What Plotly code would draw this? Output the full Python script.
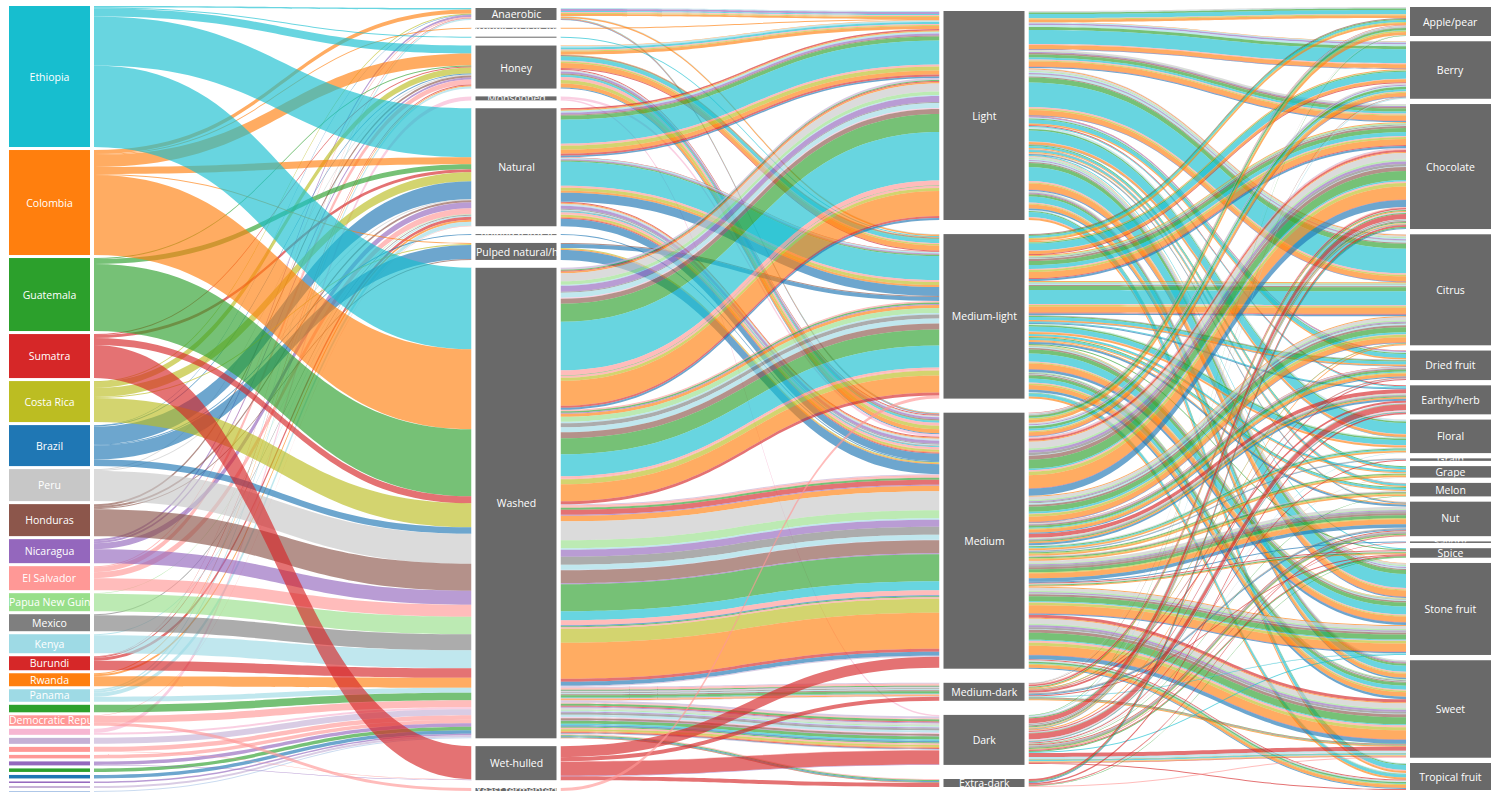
import plotly.graph_objects as go

countries = ["Ethiopia", "Colombia", "Guatemala", "Sumatra", "Costa Rica", "Brazil", "Peru", "Honduras",
             "Nicaragua", "El Salvador", "Papua New Guinea", "Mexico", "Kenya", "Burundi", "Rwanda", "Panama",
             "Tanzania", "Democratic Republic of the Congo", "India", "Yemen", "Uganda", "Timor-Leste",
             "Sulawesi", "Dominican Republic", "Ecuador", "Haiti", "Bolivia", "Jamaica"]
country_colors = ["#17becf", "#ff7f0e", "#2ca02c", "#d62728", "#bcbd22", "#1f77b4", "#c7c7c7", "#8c564b",
                  "#9467bd", "#ff9896", "#98df8a", "#7f7f7f", "#9edae5", "#d62728", "#ff7f0e", "#9edae5",
                  "#2ca02c", "#ff9896", "#f7b6d2", "#c5b0d5", "#ff9896", "#ff9896",
                  "#9467bd", "#2ca02c", "#1f77b4", "#9467bd", "#c5b0d5", "#aec7e8"]
processes = ["Anaerobic", "Carbonic maceration", "Dry", "Honey", "Monsooned", "Natural", "Pulped natural",
             "Pulped natural/honey", "Washed", "Wet-hulled", "Yeast fermented"]
roasts = ["Light", "Medium-light", "Medium", "Medium-dark", "Dark", "Extra-dark"]
flavors = ["Apple/pear", "Berry", "Chocolate", "Citrus", "Dried fruit", "Earthy/herb", "Floral", "Grain", "Grape",
           "Melon", "Nut", "Savory", "Spice", "Stone fruit", "Sweet", "Tropical fruit"]
no_label = ["Tanzania", "India", "Yemen", "Uganda", "Timor-Leste", "Sulawesi", "Dominican Republic", "Ecuador",
            "Haiti", "Bolivia", "Jamaica", "Dry"]
long_label = ["Papua New Guinea", "Democratic Republic of the Congo", "Pulped natural/honey"]

# country -> process
to_anaerobic = [("Ethiopia", 1.5), ("Colombia", 4), ("Costa Rica", 1), ("Brazil", .5), ("Nicaragua", 2),
                ("El Salvador", 1), ("Burundi", .5), ("Panama", 1.5)]
to_carbonic = [("Colombia", 1)]
to_dry = [("Ethiopia", 1)]
to_honey = [("Ethiopia", 8), ("Colombia", 12), ("Guatemala", 1), ("Sumatra", 1), ("Costa Rica", 6), ("Brazil", 1),
            ("Peru", 1), ("Honduras", 2), ("Nicaragua", 2), ("El Salvador", 5), ("Burundi", 1), ("Rwanda", 1),
            ("Panama", 2)]
to_monsooned = [("India", 4)]
to_natural = [("Ethiopia", 49), ("Colombia", 7), ("Guatemala", 5), ("Sumatra", 3), ("Costa Rica", 9), ("Brazil", 18),
              ("Peru", 1), ("Honduras", 2), ("Nicaragua", 6), ("El Salvador", 6), ("Papua New Guinea", .5),
              ("Mexico", 1), ("Kenya", 1), ("Burundi", 3), ("Rwanda", 2), ("Panama", 4),
              ("Democratic Republic of the Congo", .5)]
to_pulped = [("Brazil", 1)]
to_pulped_honey = [("Colombia", 1), ("Costa Rica", 1), ("Brazil", 14), ("Honduras", 1)]
to_washed = [("Ethiopia", 81.5), ("Colombia", 80), ("Guatemala", 67), ("Sumatra", 7), ("Costa Rica", 24),
             ("Brazil", 6.5), ("Peru", 30), ("Honduras", 27), ("Nicaragua", 14), ("El Salvador", 12),
             ("Papua New Guinea", 17.5), ("Mexico", 16), ("Kenya", 18), ("Burundi", 9.5), ("Rwanda", 10),
             ("Panama", 5), ("Tanzania", 7.5), ("Democratic Republic of the Congo", 7), ("India", 2), ("Yemen", 6),
             ("Uganda", 4.5), ("Timor-Leste", 3.5), ("Sulawesi", 3.5), ("Dominican Republic", 3.5), ("Ecuador", 3.5),
             ("Haiti", 1.5), ("Bolivia", 2), ("Jamaica", 1)]
to_wet_hulled = [("Sumatra", 33), ("Uganda", .5), ("Sulawesi", .5)]
to_yeast = [("Democratic Republic of the Congo", 3)]

# process -> roast, one band per country
anaerobic_out = [("Light", "Nicaragua", 2), ("Light", "Panama", 1), ("Light", "Ethiopia", 1), ("Light", "El Salvador", 1),
                 ("Light", "Costa Rica", 1), ("Light", "Colombia", 2), ("Medium-light", "Colombia", 1.5),
                 ("Medium-light", "Panama", .5), ("Medium", "Brazil", .5), ("Medium", "Burundi", .5),
                 ("Medium", "Colombia", .5), ("Medium", "Ethiopia", .5)]
carbonic_out = [("Light", "Colombia", 1)]
dry_out = [("Medium-light", "Ethiopia", 1)]
honey_out = [("Light", "Ethiopia", 2), ("Light", "Colombia", 3), ("Light", "Costa Rica", 1), ("Light", "El Salvador", 1),
             ("Light", "Rwanda", .5), ("Light", "Panama", 1.5), ("Medium-light", "Ethiopia", 4),
             ("Medium-light", "Colombia", 5), ("Medium-light", "Guatemala", .5), ("Medium-light", "Costa Rica", 1.5),
             ("Medium-light", "Honduras", 1), ("Medium-light", "El Salvador", 1), ("Medium-light", "Burundi", 1),
             ("Medium-light", "Rwanda", .5), ("Medium", "Ethiopia", 2), ("Medium", "Colombia", 4),
             ("Medium", "Guatemala", .5), ("Medium", "Sumatra", 1), ("Medium", "Costa Rica", 3.5), ("Medium", "Brazil", 1),
             ("Medium", "Peru", 1), ("Medium", "Honduras", 1), ("Medium", "Nicaragua", 2), ("Medium", "El Salvador", 3),
             ("Medium", "Panama", .5)]
monsooned_out = [("Medium", "India", 2.5), ("Dark", "India", 1.5)]
natural_out = [("Light", "Papua New Guinea", .5), ("Light", "Panama", 1.5), ("Light", "Nicaragua", 2),
               ("Light", "Guatemala", 4), ("Light", "Ethiopia", 24), ("Light", "El Salvador", 2), ("Light", "Costa Rica", 4),
               ("Light", "Colombia", 4), ("Light", "Burundi", 2), ("Light", "Brazil", 1.5), ("Light", "Rwanda", 1),
               ("Light", "Honduras", 1), ("Light", "Sumatra", 1.5),
               ("Medium-light", "Ethiopia", 24), ("Medium-light", "El Salvador", 2), ("Medium-light", "Costa Rica", 3),
               ("Medium-light", "Colombia", 2), ("Medium-light", "Sumatra", .5), ("Medium-light", "Brazil", 9),
               ("Medium-light", "Honduras", .5), ("Medium-light", "Guatemala", 1), ("Medium-light", "Nicaragua", 1),
               ("Medium-light", "Panama", 1.5),
               ("Medium", "Rwanda", 1), ("Medium", "Peru", 1), ("Medium", "Mexico", 1), ("Medium", "Kenya", 1),
               ("Medium", "Nicaragua", 3), ("Medium", "Honduras", .5), ("Medium", "Ethiopia", 1),
               ("Medium", "El Salvador", 2), ("Medium", "Democratic Republic of the Congo", .5),
               ("Medium", "Costa Rica", 2), ("Medium", "Colombia", 1), ("Medium", "Burundi", 1),
               ("Medium", "Sumatra", 1), ("Medium", "Brazil", 7.5), ("Medium", "Panama", 1)]
pulped_out = [("Medium", "Brazil", 1)]
pulped_honey_out = [("Medium-light", "Brazil", 4), ("Medium-light", "Honduras", 1), ("Medium", "Brazil", 10),
                    ("Medium", "Costa Rica", 1), ("Medium", "Colombia", 1)]
washed_out = [("Light", "Ethiopia", 48.5), ("Light", "Colombia", 25), ("Light", "Guatemala", 18), ("Light", "Sumatra", 1),
              ("Light", "Costa Rica", 3), ("Light", "Brazil", 2), ("Light", "Peru", 8), ("Light", "Honduras", 5),
              ("Light", "Nicaragua", 6), ("Light", "El Salvador", 5), ("Light", "Papua New Guinea", 3.5),
              ("Light", "Mexico", 1), ("Light", "Kenya", 5), ("Light", "Burundi", 2), ("Light", "Rwanda", 1.5),
              ("Light", "Panama", 1), ("Light", "Tanzania", 1), ("Light", "Democratic Republic of the Congo", 2),
              ("Light", "India", 1), ("Light", "Yemen", 2), ("Light", "Dominican Republic", .5),
              ("Medium-light", "Ethiopia", 22), ("Medium-light", "Colombia", 17), ("Medium-light", "Guatemala", 16),
              ("Medium-light", "Costa Rica", 5), ("Medium-light", "Honduras", 6), ("Medium-light", "El Salvador", 2),
              ("Medium-light", "Papua New Guinea", 5), ("Medium-light", "Mexico", 4), ("Medium-light", "Kenya", 5),
              ("Medium-light", "Burundi", 3), ("Medium-light", "Rwanda", 3), ("Medium-light", "Panama", 1.5),
              ("Medium-light", "Tanzania", 1.5), ("Medium-light", "Democratic Republic of the Congo", 1),
              ("Medium-light", "Uganda", 1), ("Medium-light", "Timor-Leste", .5), ("Medium-light", "Sulawesi", 1),
              ("Medium", "Ethiopia", 9), ("Medium", "Colombia", 36), ("Medium", "Guatemala", 27), ("Medium", "Sumatra", 5),
              ("Medium", "Costa Rica", 14), ("Medium", "Brazil", 4), ("Medium", "Peru", 19), ("Medium", "Honduras", 13),
              ("Medium", "Nicaragua", 7), ("Medium", "El Salvador", 5), ("Medium", "Papua New Guinea", 8),
              ("Medium", "Mexico", 8), ("Medium", "Kenya", 5), ("Medium", "Burundi", 3), ("Medium", "Rwanda", 5.5),
              ("Medium", "Panama", 1.5), ("Medium", "Tanzania", 2), ("Medium", "Democratic Republic of the Congo", 1.5),
              ("Medium", "Yemen", 1), ("Medium", "Uganda", 1.5), ("Medium", "Timor-Leste", 1), ("Medium", "Sulawesi", 1),
              ("Medium", "Dominican Republic", 1), ("Medium", "Ecuador", 1), ("Medium", "Haiti", 1), ("Medium", "Bolivia", 1),
              ("Medium", "Jamaica", .5),
              ("Medium-dark", "Ethiopia", .5), ("Medium-dark", "Colombia", 1), ("Medium-dark", "Guatemala", 2),
              ("Medium-dark", "Peru", 1), ("Medium-dark", "Honduras", 1), ("Medium-dark", "Mexico", 1),
              ("Medium-dark", "Kenya", 1), ("Medium-dark", "Tanzania", 1),
              ("Medium-dark", "Democratic Republic of the Congo", 1), ("Medium-dark", "Yemen", 1),
              ("Medium-dark", "Uganda", 1), ("Medium-dark", "Timor-Leste", 1), ("Medium-dark", "Sulawesi", .5),
              ("Medium-dark", "Dominican Republic", .5), ("Medium-dark", "Bolivia", .5),
              ("Dark", "Ethiopia", 1.5), ("Dark", "Colombia", 1), ("Dark", "Guatemala", 3), ("Dark", "Sumatra", 1),
              ("Dark", "Costa Rica", 2), ("Dark", "Brazil", .5), ("Dark", "Peru", 2), ("Dark", "Honduras", 2),
              ("Dark", "Nicaragua", 1), ("Dark", "Papua New Guinea", 1), ("Dark", "Mexico", 2), ("Dark", "Kenya", 2),
              ("Dark", "Burundi", 1), ("Dark", "Panama", 1), ("Dark", "Tanzania", 2),
              ("Dark", "Democratic Republic of the Congo", 1.5), ("Dark", "India", 1), ("Dark", "Yemen", 2),
              ("Dark", "Uganda", .5), ("Dark", "Timor-Leste", .5), ("Dark", "Sulawesi", 1),
              ("Dark", "Dominican Republic", 1), ("Dark", "Ecuador", 1.5), ("Dark", "Haiti", .5), ("Dark", "Bolivia", .5),
              ("Dark", "Jamaica", .5),
              ("Extra-dark", "Guatemala", 1), ("Extra-dark", "Burundi", .5), ("Extra-dark", "Uganda", .5),
              ("Extra-dark", "Timor-Leste", .5), ("Extra-dark", "Dominican Republic", .5), ("Extra-dark", "Ecuador", 1)]
wet_hulled_out = [("Medium", "Sumatra", 11), ("Medium-dark", "Sumatra", 4), ("Dark", "Sumatra", 14), ("Dark", "Uganda", .5),
                  ("Dark", "Sulawesi", .5), ("Extra-dark", "Sumatra", 4)]
yeast_out = [("Medium-light", "Democratic Republic of the Congo", 3)]

# roast -> flavor, one band per country
light_out = [("Apple/pear", "Peru", 1), ("Apple/pear", "Guatemala", 1.5), ("Apple/pear", "Ethiopia", 4),
             ("Apple/pear", "El Salvador", .5), ("Apple/pear", "Costa Rica", 1), ("Apple/pear", "Colombia", 2.5),
             ("Apple/pear", "Kenya", .5),
             ("Berry", "Nicaragua", 1.5), ("Berry", "Kenya", 2), ("Berry", "Guatemala", 3), ("Berry", "Ethiopia", 14),
             ("Berry", "El Salvador", 1), ("Berry", "Panama", 1), ("Berry", "Colombia", 4), ("Berry", "Burundi", .5),
             ("Berry", "Brazil", .5), ("Berry", "Rwanda", .5),
             ("Chocolate", "Peru", 1.5), ("Chocolate", "Nicaragua", 1), ("Chocolate", "Honduras", 1.5),
             ("Chocolate", "Guatemala", 3), ("Chocolate", "Ethiopia", 2), ("Chocolate", "El Salvador", 1),
             ("Chocolate", "Costa Rica", 1), ("Chocolate", "Colombia", 5), ("Chocolate", "Burundi", .5),
             ("Chocolate", "Brazil", 1), ("Chocolate", "Papua New Guinea", .5),
             ("Citrus", "Rwanda", 1), ("Citrus", "Peru", 1.5), ("Citrus", "Papua New Guinea", 1), ("Citrus", "Panama", 1),
             ("Citrus", "Nicaragua", 1), ("Citrus", "Mexico", .5), ("Citrus", "Kenya", 2), ("Citrus", "Honduras", 1),
             ("Citrus", "Guatemala", 5), ("Citrus", "Ethiopia", 24.5), ("Citrus", "El Salvador", 1.5),
             ("Citrus", "Costa Rica", 1.5), ("Citrus", "Colombia", 5), ("Citrus", "Burundi", .5), ("Citrus", "Brazil", .5),
             ("Citrus", "Yemen", .5),
             ("Dried fruit", "Nicaragua", 1), ("Dried fruit", "Kenya", 1), ("Dried fruit", "Guatemala", 1),
             ("Dried fruit", "Ethiopia", 4), ("Dried fruit", "Colombia", 1.5), ("Dried fruit", "Sumatra", .5),
             ("Earthy/herb", "Sumatra", 1), ("Earthy/herb", "Ethiopia", 1),
             ("Floral", "Peru", .5), ("Floral", "Panama", 1), ("Floral", "Guatemala", 1.5), ("Floral", "Ethiopia", 11),
             ("Floral", "El Salvador", .5), ("Floral", "Colombia", 2.5), ("Floral", "Kenya", .5), ("Floral", "Brazil", .5),
             ("Grape", "Ethiopia", 2), ("Grape", "Colombia", 1), ("Grape", "Guatemala", 1),
             ("Melon", "Ethiopia", 2), ("Melon", "Colombia", 1), ("Melon", "Honduras", .5), ("Melon", "Peru", .5),
             ("Nut", "Peru", .5), ("Nut", "Colombia", .5), ("Nut", "Brazil", 1),
             ("Spice", "Ethiopia", 1),
             ("Stone fruit", "Rwanda", .5), ("Stone fruit", "Peru", 1.5), ("Stone fruit", "Papua New Guinea", 1),
             ("Stone fruit", "Panama", 1), ("Stone fruit", "Nicaragua", 1), ("Stone fruit", "Kenya", 1),
             ("Stone fruit", "Honduras", 1), ("Stone fruit", "Guatemala", 4), ("Stone fruit", "Ethiopia", 14),
             ("Stone fruit", "El Salvador", 1.5), ("Stone fruit", "Costa Rica", 1), ("Stone fruit", "Colombia", 6),
             ("Stone fruit", "Burundi", .5), ("Stone fruit", "Brazil", 1),
             ("Sweet", "Peru", 1), ("Sweet", "Papua New Guinea", .5), ("Sweet", "Nicaragua", 1), ("Sweet", "Honduras", 1),
             ("Sweet", "Guatemala", 2), ("Sweet", "Ethiopia", 6), ("Sweet", "El Salvador", 1), ("Sweet", "Costa Rica", 1),
             ("Sweet", "Colombia", 4), ("Sweet", "Brazil", 1.5),
             ("Tropical fruit", "Ethiopia", 5), ("Tropical fruit", "Colombia", 2), ("Tropical fruit", "Guatemala", 1),
             ("Tropical fruit", "Panama", 1), ("Tropical fruit", "El Salvador", 1)]
medium_light_out = [("Apple/pear", "Guatemala", 1), ("Apple/pear", "Ethiopia", 2), ("Apple/pear", "Costa Rica", 1),
                    ("Apple/pear", "Colombia", 2), ("Apple/pear", "Honduras", 1),
                    ("Berry", "Guatemala", 1), ("Berry", "Ethiopia", 7), ("Berry", "El Salvador", .5), ("Berry", "Colombia", 3),
                    ("Berry", "Burundi", 1), ("Berry", "Papua New Guinea", .5), ("Berry", "Rwanda", 1),
                    ("Chocolate", "Rwanda", 1), ("Chocolate", "Papua New Guinea", 1.5), ("Chocolate", "Mexico", 1),
                    ("Chocolate", "Kenya", .5), ("Chocolate", "Honduras", 2), ("Chocolate", "Guatemala", 4),
                    ("Chocolate", "Ethiopia", 4), ("Chocolate", "El Salvador", 1), ("Chocolate", "Costa Rica", 2),
                    ("Chocolate", "Colombia", 6), ("Chocolate", "Burundi", 1), ("Chocolate", "Brazil", 2),
                    ("Citrus", "Rwanda", 1), ("Citrus", "Papua New Guinea", 1), ("Citrus", "Mexico", .5), ("Citrus", "Kenya", 1.5),
                    ("Citrus", "Honduras", 1), ("Citrus", "Guatemala", 4), ("Citrus", "Ethiopia", 14), ("Citrus", "El Salvador", 1),
                    ("Citrus", "Costa Rica", 1.5), ("Citrus", "Colombia", 6), ("Citrus", "Burundi", 1), ("Citrus", "Brazil", 1.5),
                    ("Dried fruit", "Kenya", .5), ("Dried fruit", "Guatemala", 1), ("Dried fruit", "Ethiopia", 3),
                    ("Dried fruit", "Colombia", 1.5), ("Dried fruit", "Honduras", .5), ("Dried fruit", "Brazil", .5),
                    ("Earthy/herb", "Ethiopia", 1), ("Earthy/herb", "Brazil", 1),
                    ("Floral", "Papua New Guinea", .5), ("Floral", "Guatemala", 1.5), ("Floral", "Ethiopia", 5),
                    ("Floral", "El Salvador", .5), ("Floral", "Colombia", 2), ("Floral", "Kenya", .5),
                    ("Grape", "Ethiopia", 2), ("Grape", "Colombia", 1),
                    ("Melon", "Ethiopia", 2), ("Melon", "Colombia", 1), ("Melon", "Guatemala", 1),
                    ("Nut", "Brazil", 2), ("Nut", "Colombia", 1),
                    ("Spice", "Guatemala", 1),
                    ("Stone fruit", "Rwanda", .5), ("Stone fruit", "Papua New Guinea", 1), ("Stone fruit", "Mexico", .5),
                    ("Stone fruit", "Kenya", 1), ("Stone fruit", "Honduras", 1.5), ("Stone fruit", "Guatemala", 4),
                    ("Stone fruit", "Ethiopia", 8), ("Stone fruit", "El Salvador", 1), ("Stone fruit", "Costa Rica", 1),
                    ("Stone fruit", "Colombia", 5.5), ("Stone fruit", "Burundi", .5), ("Stone fruit", "Brazil", 2.5),
                    ("Sweet", "Papua New Guinea", 1), ("Sweet", "Mexico", 1), ("Sweet", "Kenya", .5), ("Sweet", "Honduras", 1),
                    ("Sweet", "Guatemala", 3), ("Sweet", "Ethiopia", 4), ("Sweet", "El Salvador", 1), ("Sweet", "Costa Rica", 1.5),
                    ("Sweet", "Colombia", 4.5), ("Sweet", "Brazil", 2.5),
                    ("Tropical fruit", "Ethiopia", 3), ("Tropical fruit", "Colombia", 2), ("Tropical fruit", "Guatemala", .5),
                    ("Tropical fruit", "Panama", 1)]
medium_out = [("Apple/pear", "Peru", 1), ("Apple/pear", "Guatemala", 2), ("Apple/pear", "Costa Rica", 1.5),
              ("Apple/pear", "Colombia", 3), ("Apple/pear", "Mexico", .5), ("Apple/pear", "Kenya", .5),
              ("Apple/pear", "Honduras", .5), ("Apple/pear", "Ethiopia", .5), ("Apple/pear", "Sumatra", .5),
              ("Berry", "Peru", 1.5), ("Berry", "Guatemala", 2.5), ("Berry", "Kenya", 1), ("Berry", "Nicaragua", 1),
              ("Berry", "Ethiopia", 2), ("Berry", "Colombia", 3.5), ("Berry", "Costa Rica", 1), ("Berry", "El Salvador", .5),
              ("Berry", "Brazil", .5), ("Berry", "Burundi", .5),
              ("Chocolate", "Sumatra", 2), ("Chocolate", "Rwanda", 1), ("Chocolate", "Peru", 6.5),
              ("Chocolate", "Papua New Guinea", 2), ("Chocolate", "Nicaragua", 2.5), ("Chocolate", "Mexico", 2.5),
              ("Chocolate", "Kenya", .5), ("Chocolate", "Honduras", 4), ("Chocolate", "Guatemala", 9),
              ("Chocolate", "Ethiopia", 1.5), ("Chocolate", "El Salvador", 1.5), ("Chocolate", "Costa Rica", 3.5),
              ("Chocolate", "Colombia", 13), ("Chocolate", "Burundi", .5), ("Chocolate", "Brazil", 7),
              ("Chocolate", "Yemen", 1), ("Chocolate", "Uganda", 1),
              ("Citrus", "Rwanda", 1), ("Citrus", "Peru", 3), ("Citrus", "Papua New Guinea", 1.5), ("Citrus", "Nicaragua", 1),
              ("Citrus", "Mexico", 1), ("Citrus", "Kenya", 1.5), ("Citrus", "Honduras", 2), ("Citrus", "Guatemala", 5),
              ("Citrus", "Ethiopia", 2), ("Citrus", "El Salvador", .5), ("Citrus", "Costa Rica", 2.5), ("Citrus", "Colombia", 5),
              ("Citrus", "Burundi", .5), ("Citrus", "Brazil", .5),
              ("Dried fruit", "Peru", 1), ("Dried fruit", "Nicaragua", .5), ("Dried fruit", "Honduras", 1),
              ("Dried fruit", "Guatemala", 2), ("Dried fruit", "Ethiopia", 1), ("Dried fruit", "Costa Rica", 1),
              ("Dried fruit", "Colombia", 3), ("Dried fruit", "Brazil", 1), ("Dried fruit", "Sumatra", .5),
              ("Earthy/herb", "Sumatra", 4), ("Earthy/herb", "Peru", 1), ("Earthy/herb", "Papua New Guinea", .5),
              ("Earthy/herb", "Honduras", .5), ("Earthy/herb", "Guatemala", 1), ("Earthy/herb", "Colombia", 1.5),
              ("Earthy/herb", "Brazil", 2), ("Earthy/herb", "Mexico", .5), ("Earthy/herb", "Nicaragua", .5),
              ("Floral", "Peru", .5), ("Floral", "Guatemala", 1), ("Floral", "Ethiopia", 1), ("Floral", "Colombia", 1.5),
              ("Floral", "Costa Rica", .5), ("Floral", "Kenya", .5),
              ("Grain", "Peru", .5), ("Grain", "Brazil", .5), ("Grain", "Mexico", .5),
              ("Grape", "Colombia", 1.5), ("Grape", "Guatemala", 1), ("Grape", "Peru", .5), ("Grape", "Costa Rica", 1),
              ("Melon", "Colombia", 1.5), ("Melon", "Guatemala", 1), ("Melon", "Honduras", .5), ("Melon", "Costa Rica", 1),
              ("Melon", "Peru", 1),
              ("Nut", "Peru", 2.5), ("Nut", "Papua New Guinea", 1), ("Nut", "Nicaragua", 1), ("Nut", "Mexico", 2),
              ("Nut", "Honduras", 2), ("Nut", "Guatemala", 3), ("Nut", "Colombia", 5), ("Nut", "Costa Rica", 1),
              ("Nut", "Brazil", 3.5),
              ("Savory", "Brazil", 1),
              ("Spice", "Sumatra", 1), ("Spice", "Guatemala", 1), ("Spice", "Colombia", 1), ("Spice", "Peru", 1),
              ("Stone fruit", "Rwanda", 1), ("Stone fruit", "Peru", 3), ("Stone fruit", "Papua New Guinea", 1.5),
              ("Stone fruit", "Nicaragua", 1), ("Stone fruit", "Mexico", .5), ("Stone fruit", "Kenya", .5),
              ("Stone fruit", "Honduras", 2), ("Stone fruit", "Guatemala", 5), ("Stone fruit", "Ethiopia", 1),
              ("Stone fruit", "El Salvador", .5), ("Stone fruit", "Costa Rica", 2.5), ("Stone fruit", "Colombia", 8),
              ("Stone fruit", "Burundi", .5), ("Stone fruit", "Brazil", 1),
              ("Sweet", "Sumatra", 3), ("Sweet", "Rwanda", 1), ("Sweet", "Peru", 5), ("Sweet", "Papua New Guinea", 1.5),
              ("Sweet", "Nicaragua", 2), ("Sweet", "Mexico", 2), ("Sweet", "Kenya", .5), ("Sweet", "Honduras", 3),
              ("Sweet", "Guatemala", 7), ("Sweet", "Ethiopia", 1), ("Sweet", "El Salvador", 2), ("Sweet", "Costa Rica", 3),
              ("Sweet", "Colombia", 9), ("Sweet", "Burundi", .5), ("Sweet", "Brazil", 4),
              ("Tropical fruit", "Colombia", 3), ("Tropical fruit", "Guatemala", 1.5), ("Tropical fruit", "Costa Rica", 1),
              ("Tropical fruit", "Peru", 1), ("Tropical fruit", "Sumatra", 1), ("Tropical fruit", "Brazil", 1),
              ("Tropical fruit", "Ethiopia", .5), ("Tropical fruit", "Kenya", .5)]
medium_dark_out = [("Apple/pear", "Peru", .5), ("Berry", "Honduras", .5),
                   ("Chocolate", "Guatemala", 1), ("Chocolate", "Sumatra", 1.5), ("Chocolate", "Colombia", 1),
                   ("Chocolate", "Peru", .5), ("Chocolate", "Uganda", 1),
                   ("Citrus", "Guatemala", .5), ("Citrus", "Colombia", .5),
                   ("Dried fruit", "Sumatra", .5), ("Dried fruit", "Honduras", .5),
                   ("Earthy/herb", "Sumatra", 2),
                   ("Nut", "Brazil", 1), ("Nut", "Peru", .5), ("Nut", "Mexico", 1),
                   ("Spice", "Sumatra", 1),
                   ("Stone fruit", "Kenya", .5), ("Stone fruit", "Ethiopia", .5),
                   ("Sweet", "Sumatra", .5), ("Sweet", "Colombia", 1), ("Sweet", "Guatemala", .5), ("Sweet", "Mexico", .5),
                   ("Sweet", "Tanzania", .5)]
dark_out = [("Apple/pear", "Guatemala", .5), ("Berry", "Kenya", 1),
            ("Chocolate", "Sumatra", 5), ("Chocolate", "Guatemala", 1), ("Chocolate", "Mexico", 1), ("Chocolate", "Kenya", .5),
            ("Chocolate", "Peru", .5), ("Chocolate", "Honduras", 1), ("Chocolate", "Tanzania", 1), ("Chocolate", "Yemen", 1),
            ("Chocolate", "Brazil", .5), ("Chocolate", "Costa Rica", .5),
            ("Chocolate", "Democratic Republic of the Congo", .5), ("Chocolate", "Colombia", .5),
            ("Citrus", "Colombia", 1), ("Dried fruit", "Sumatra", 1), ("Dried fruit", "Yemen", .5),
            ("Earthy/herb", "Sumatra", 6), ("Earthy/herb", "India", 1), ("Earthy/herb", "Yemen", 1),
            ("Earthy/herb", "Guatemala", .5), ("Earthy/herb", "Kenya", .5), ("Earthy/herb", "Tanzania", .5),
            ("Earthy/herb", "Ecuador", .5),
            ("Floral", "Kenya", .5), ("Grain", "Sumatra", 1), ("Grape", "Peru", .5), ("Melon", "Guatemala", .5),
            ("Nut", "Sumatra", 1), ("Nut", "Guatemala", 1), ("Nut", "Mexico", 1), ("Nut", "Honduras", .5),
            ("Nut", "Costa Rica", .5), ("Nut", "Nicaragua", .5), ("Nut", "Papua New Guinea", .5),
            ("Savory", "Sumatra", .5), ("Spice", "Sumatra", 1), ("Spice", "Guatemala", 1), ("Stone fruit", "Ethiopia", 1),
            ("Sweet", "Sumatra", 4), ("Sweet", "Ethiopia", 1), ("Sweet", "Guatemala", .5), ("Sweet", "Colombia", .5),
            ("Sweet", "Kenya", 1), ("Sweet", "Panama", 1), ("Sweet", "Burundi", .5),
            ("Sweet", "Democratic Republic of the Congo", .5), ("Sweet", "Costa Rica", .5), ("Sweet", "India", .5),
            ("Tropical fruit", "Sumatra", 1)]
extra_dark_out = [("Chocolate", "Sumatra", 2), ("Chocolate", "Guatemala", 1), ("Chocolate", "Ecuador", 1),
                  ("Earthy/herb", "Sumatra", 1.5), ("Nut", "Sumatra", .5), ("Nut", "Burundi", .5),
                  ("Spice", "Guatemala", .5), ("Sweet", "Uganda", 1)]

stage1 = dict(zip(processes, [to_anaerobic, to_carbonic, to_dry, to_honey, to_monsooned, to_natural, to_pulped,
                              to_pulped_honey, to_washed, to_wet_hulled, to_yeast]))
stage2 = dict(zip(processes, [anaerobic_out, carbonic_out, dry_out, honey_out, monsooned_out, natural_out, pulped_out,
                              pulped_honey_out, washed_out, wet_hulled_out, yeast_out]))
stage3 = dict(zip(roasts, [light_out, medium_light_out, medium_out, medium_dark_out, dark_out, extra_dark_out]))

W, H = 1500, 800
LINK_ALPHA = 0.65

nodes = countries + processes + roasts + flavors
idx = {n: i for i, n in enumerate(nodes)}
color_of = dict(zip(countries, country_colors))
band_rank = {c: i for i, c in enumerate(sorted(countries, reverse=True))}


def rgba(hex_color, alpha):
    h = hex_color.lstrip("#")
    return "rgba(%d,%d,%d,%s)" % (int(h[:2], 16), int(h[2:4], 16), int(h[4:], 16), alpha)


sources, targets, values, link_colors = [], [], [], []
for proc, rows in stage1.items():
    for country, v in rows:
        sources.append(idx[country]); targets.append(idx[proc]); values.append(v)
        link_colors.append(rgba(color_of[country], LINK_ALPHA))
for stage in (stage2, stage3):
    for left, rows in stage.items():
        # bands between two nodes stack in reverse alphabetical order of country
        for right, country, v in sorted(rows, key=lambda r: band_rank[r[1]]):
            sources.append(idx[left]); targets.append(idx[right]); values.append(v)
            link_colors.append(rgba(color_of[country], LINK_ALPHA))

sum_in = [0.0] * len(nodes)
sum_out = [0.0] * len(nodes)
for s, t, v in zip(sources, targets, values):
    sum_out[s] += v
    sum_in[t] += v
heights = [max(a, b) for a, b in zip(sum_in, sum_out)]

# column centre x, first node top and span in pixels
columns = [(countries, 49.5, 6, 792), (processes, 516, 8, 791), (roasts, 984, 11, 787), (flavors, 1450.5, 7, 790)]
node_x, node_y = [0.0] * len(nodes), [0.0] * len(nodes)
for names, cx, top, bottom in columns:
    total = sum(heights[idx[n]] for n in names)
    gap = (bottom - top - total) / (len(names) - 1)
    y = top
    for n in names:
        h = heights[idx[n]]
        node_x[idx[n]] = cx / W
        node_y[idx[n]] = (y + h / 2) / H
        y += h + gap

column_total = sum(heights[idx[n]] for n in countries)
node_pad = (H - column_total) / (len(countries) - 1)
node_colors = country_colors + ["#696969"] * (len(nodes) - len(countries))

# plotly gives links under 1px a thick stroke unless a line width is set
thin_line = dict(color="rgba(0,0,0,0)", width=0.01)

# links with wide white nodes, so each band stops a few pixels short of the box
fig = go.Figure()
fig.add_trace(go.Sankey(
    arrangement="fixed",
    hoverinfo="skip",
    node=dict(label=[""] * len(nodes), x=node_x, y=node_y, pad=node_pad, thickness=89,
              color="#ffffff", line=dict(width=0)),
    link=dict(source=sources, target=targets, value=values, color=link_colors, line=thin_line),
))
fig.add_trace(go.Sankey(
    arrangement="fixed",
    hoverinfo="skip",
    node=dict(label=[""] * len(nodes), x=node_x, y=node_y, pad=node_pad, thickness=81,
              color=node_colors, line=dict(width=0)),
    link=dict(source=sources, target=targets, value=values, color="rgba(0,0,0,0)", line=thin_line),
))

for n in nodes:
    if n in no_label:
        continue
    i = idx[n]
    fig.add_annotation(text=n, xref="paper", yref="paper", x=node_x[i], y=1 - node_y[i],
                       xanchor="center", yanchor="middle", width=81, height=max(heights[i], 1),
                       align="left" if n in long_label else "center",
                       showarrow=False, borderpad=0, borderwidth=0,
                       font=dict(family="Open Sans", size=10.5, color="#ffffff"))

fig.update_layout(width=W, height=H, margin=dict(l=0, r=0, t=0, b=0), paper_bgcolor="#ffffff")
fig.write_html("out.html", config={"displayModeBar": False}, post_script="document.body.style.margin='0';")
